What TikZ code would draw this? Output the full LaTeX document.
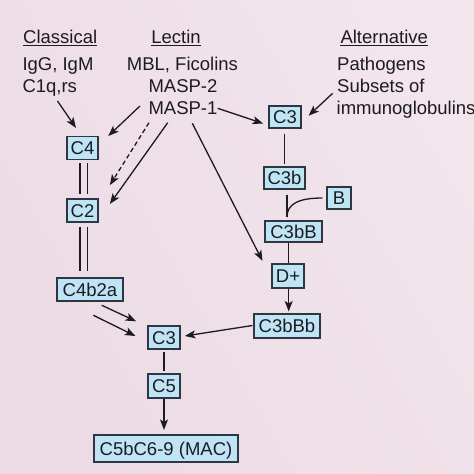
\documentclass[tikz,border=0pt]{standalone}
\usepackage{fontspec}
\setmainfont{Liberation Sans}
\usetikzlibrary{arrows.meta,calc}
\definecolor{bgA}{RGB}{236,219,229}
\definecolor{bgB}{RGB}{242,229,236}
\definecolor{boxfill}{RGB}{190,228,245}
\definecolor{boxline}{RGB}{45,55,65}
\definecolor{ink}{RGB}{28,28,32}
\tikzset{
  lbl/.style={inner sep=0pt, anchor=base west, text=ink, font=\fontsize{18.5}{22}\selectfont},
  cbox/.style={draw=boxline, line width=1.1pt, fill=boxfill, inner sep=0pt,
    minimum height=23pt, text height=13.2pt, text depth=0pt, text=ink,
    font=\fontsize{18.5}{22}\selectfont},
  conn/.style={draw=ink, line width=1.3pt},
  arr/.style={conn, -{Stealth[length=10.5pt,width=8pt,inset=2.5pt]}},
  uline/.style={draw=ink, line width=0.9pt}
}
\begin{document}
\begin{tikzpicture}[x=1pt,y=-1pt]
\shade[left color=bgA, right color=bgB, shading angle=120] (0,0) rectangle (474,474);
\path[use as bounding box] (0,0) rectangle (474,474);

% headings and texts
\node[lbl] (cl) at (23,43.5) {Classical};
\node[lbl, anchor=base] (le) at (176,43.5) {Lectin};
\node[lbl] (al) at (340.3,43.5) {Alternative};
\draw[uline] ([yshift=-2pt]cl.base west) -- ([yshift=-2pt]cl.base east);
\draw[uline] ([yshift=-2pt]le.base west) -- ([yshift=-2pt]le.base east);
\draw[uline] ([yshift=-2pt]al.base west) -- ([yshift=-2pt]al.base east);

\node[lbl] (igg) at (22.3,70.3) {IgG, IgM};
\node[lbl] (c1q) at (22.3,92.2) {C1q,rs};
\node[lbl] (mbl) at (126.7,70.3) {MBL, Ficolins};
\node[lbl] (masp2) at (148.3,92.2) {MASP-2};
\node[lbl] (masp1) at (148.3,114) {MASP-1};
\node[lbl] (path) at (337,70.3) {Pathogens};
\node[lbl] (subs) at (337,92.2) {Subsets of};
\node[lbl] (immu) at (336.5,114) {immunoglobulins};

% boxes
\node[cbox, minimum width=31pt] (c4) at (82.5,148) {C4};
\node[cbox, minimum width=31pt] (c2) at (82.5,210.5) {C2};
\node[cbox, minimum width=66pt] (c4b2a) at (90,289.5) {C4b2a};
\node[cbox, minimum width=32pt] (c3m) at (164,337.5) {C3};
\node[cbox, minimum width=32pt, minimum height=24pt] (c5) at (164,386) {C5};
\node[cbox, minimum width=144pt, minimum height=27pt] (mac) at (166,448.5) {C5bC6-9 (MAC)};
\node[cbox, minimum width=32pt, minimum height=22pt] (c3t) at (285,117) {C3};
\node[cbox, minimum width=41pt, minimum height=22pt] (c3b) at (284.5,178) {C3b};
\node[cbox, minimum width=24pt, minimum height=22pt] (bb) at (339,198) {B};
\node[cbox, minimum width=57pt, minimum height=21pt] (c3bB) at (293.5,231.5) {C3bB};
\node[cbox, minimum width=32pt, minimum height=24pt] (dp) at (288,276) {D+};
\node[cbox, minimum width=66pt, minimum height=24pt] (c3bBb) at (287,326) {C3bBb};

% free ends
\coordinate (s1) at (57.5,101);
\coordinate (s2) at (140,106);
\coordinate (s3) at (149,122.7);
\coordinate (s4) at (167.7,122.7);
\coordinate (s5) at (217.7,108.3);
\coordinate (s6) at (192.3,123.3);
\coordinate (s7) at (332.7,93.3);
\coordinate (jn) at (287,217);

% arrows
\draw[arr] (s1) -- ($(c4.north)+(-6.5,-8)$);
\draw[arr] (s2) -- ($(c4.east)+(9.7,-12)$);
\draw[arr, dash pattern=on 4.5pt off 3pt] (s3) -- ($(c2.north east)+(11.3,-13.3)$);
\draw[arr] (s4) -- ($(c2.east)+(11.3,-6.5)$);
\draw[arr] (s5) -- ($(c3t.west)+(-5.3,6.5)$);
\draw[arr] (s6) -- ($(c3bB.south west)+(-2,18.3)$);
\draw[arr] (s7) -- ($(c3t.east)+(7,-1.3)$);

% double lines
\draw[conn, shorten <=3pt, shorten >=4pt] ([xshift=-2.5pt]c4.south) -- ([xshift=-2.5pt]c2.north);
\draw[conn, shorten <=3pt, shorten >=4pt] ([xshift=4.8pt]c4.south) -- ([xshift=4.8pt]c2.north);
\draw[conn, shorten <=4pt, shorten >=6pt] ([xshift=-2.5pt]c2.south) -- ([xshift=-2.5pt]c2.south |- c4b2a.north);
\draw[conn, shorten <=4pt, shorten >=6pt] ([xshift=4.8pt]c2.south) -- ([xshift=4.8pt]c2.south |- c4b2a.north);

% C4b2a to C3
\draw[arr] ($(c4b2a.south)+(11.7,3.7)$) -- ($(c3m.west)+(-11.3,-16.2)$);
\draw[arr] ($(c4b2a.south)+(3.3,13.7)$) -- ($(c3m.west)+(-12,-1.5)$);
\draw[arr] ($(c3bBb.west)+(-1,-0.5)$) -- ($(c3m.east)+(4.3,-1.5)$);

% central column
\draw[conn, shorten <=2pt, shorten >=2pt] (c3m.south) -- (c5.north);
\draw[arr, shorten >=4.5pt] (c5.south) -- (c5.south |- mac.north);

% alternative column
\draw[conn, shorten <=5pt, shorten >=2pt] ([xshift=-0.8pt]c3t.south) -- ([xshift=-0.8pt]c3t.south |- c3b.north);
\draw[conn, shorten <=5pt] ([xshift=2.5pt]c3b.south) -- (jn);
\draw[conn] ([xshift=-4pt]bb.west) .. controls +(-24,0) and +(0,-13) .. (jn);
\draw[conn] ([xshift=0.7pt]dp.north |- c3bB.south) -- ([xshift=0.7pt]dp.north);
\draw[arr, shorten >=2pt] ([xshift=0.7pt]dp.south) -- ([xshift=0.7pt]dp.south |- c3bBb.north);
\end{tikzpicture}
\end{document}
